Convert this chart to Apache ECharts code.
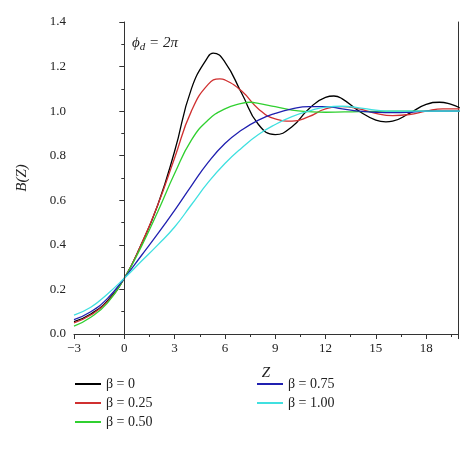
<!DOCTYPE html><html><head><meta charset="utf-8"><script src="https://cdn.jsdelivr.net/npm/echarts@6/dist/echarts.min.js"></script></head><body style="margin:0"><div id="c" style="width:474px;height:468px"></div><script>
const xTicks=[-3,0,3,6,9,12,15,18];
const names=['β = 0','β = 0.25','β = 0.50','β = 0.75','β = 1.00'];
const colors=['#000000','#d03030','#30d030','#2020b0','#40e0e0'];
const b0=[[-3,0.055],[-2,0.09],[-1,0.15],[0,0.25],[1,0.4],[2,0.58],[3,0.82],[4,1.1],[5,1.245],[5.3,1.26],[6,1.22],[7,1.08],[8,0.94],[9,0.895],[10,0.93],[11,1.01],[12,1.062],[12.5,1.068],[13,1.055],[14,1.0],[15,0.96],[15.6,0.952],[16,0.955],[17,0.99],[18,1.03],[18.8,1.04],[19.5,1.03],[20,1.015]];
const b25=[[-3,0.05],[-2,0.085],[-1,0.145],[0,0.25],[1,0.4],[2,0.58],[3,0.79],[4,1.0],[5,1.12],[5.7,1.145],[6,1.14],[7,1.09],[8,1.01],[9,0.965],[10,0.955],[11,0.975],[12,1.01],[13,1.02],[14,1.01],[15,0.99],[16,0.98],[17,0.985],[18,1.0],[19,1.01],[20,1.01]];
const b50=[[-3,0.035],[-2,0.075],[-1,0.14],[0,0.25],[1,0.39],[2,0.55],[3,0.72],[4,0.87],[5,0.96],[6,1.01],[7,1.035],[7.5,1.04],[8,1.035],[9,1.02],[10,1.005],[11,0.998],[12,0.995],[14,0.998],[16,1.0],[18,1.0],[20,1.0]];
const b75=[[-3,0.065],[-2,0.1],[-1,0.16],[0,0.25],[1,0.35],[2,0.45],[3,0.555],[4,0.665],[5,0.77],[6,0.855],[7,0.915],[8,0.96],[9,0.99],[10,1.01],[11,1.02],[12,1.02],[13,1.01],[14,1.0],[15,0.995],[16,0.993],[17,0.995],[18,1.0],[20,1.0]];
const b100=[[-3,0.085],[-2,0.12],[-1,0.18],[0,0.25],[1,0.325],[2,0.4],[3,0.48],[4,0.58],[5,0.68],[6,0.765],[7,0.835],[8,0.895],[9,0.94],[10,0.975],[11,1.0],[12,1.018],[13,1.022],[14,1.015],[15,1.005],[16,1.0],[18,1.0],[20,1.0]];
const all=[b0,b25,b50,b75,b100];
const font='Liberation Serif';
const ch=echarts.init(document.getElementById('c'));
ch.setOption({
 animation:false,
 textStyle:{fontFamily:font},
 grid:{left:74,right:16,top:22,bottom:134},
 xAxis:{type:'value',min:-3,max:19.9,interval:3,name:'Z',nameLocation:'middle',nameGap:32,nameTextStyle:{fontSize:15,fontStyle:'italic',color:'#222'},
  axisLine:{lineStyle:{color:'#333'}},axisTick:{lineStyle:{color:'#333'}},minorTick:{show:true,splitNumber:2},splitLine:{show:false},
  axisLabel:{fontSize:13,color:'#222',showMaxLabel:false,formatter:v=>v<0?'\u2212'+(-v):String(v)}},
 yAxis:[{type:'value',min:0,max:1.4,interval:0.2,name:'B(Z)',nameLocation:'middle',nameGap:44,nameTextStyle:{fontSize:15,fontStyle:'italic',color:'#222'},
  axisLine:{show:true,lineStyle:{color:'#333'}},axisTick:{show:true,lineStyle:{color:'#333'}},minorTick:{show:true,splitNumber:2},splitLine:{show:false},
  axisLabel:{fontSize:13,color:'#222',formatter:v=>v.toFixed(1)}},
  {type:'value',position:'right',min:0,max:1.4,axisLine:{show:true,lineStyle:{color:'#333'}},axisTick:{show:false},axisLabel:{show:false},splitLine:{show:false}}],
 legend:[{data:names.slice(0,3),orient:'vertical',left:70,top:372,itemWidth:26,itemHeight:2,itemGap:5,icon:'rect',textStyle:{fontSize:14,color:'#222'}},
  {data:names.slice(3),orient:'vertical',left:252,top:372,itemWidth:26,itemHeight:2,itemGap:5,icon:'rect',textStyle:{fontSize:14,color:'#222'}}],
 graphic:[{type:'text',left:132,top:36,style:{text:'{a|ϕ}{s|d}{a| = 2π}',rich:{a:{font:'italic 15px "Liberation Serif"',fill:'#222'},s:{font:'italic 11px "Liberation Serif"',fill:'#222',padding:[8,0,0,0]}}}}],
 series:all.map((d,i)=>({name:names[i],type:'line',data:d,smooth:0.5,showSymbol:false,lineStyle:{width:1.3,color:colors[i]},itemStyle:{color:colors[i]},
  markLine:i===0?{symbol:'none',silent:true,label:{show:false},lineStyle:{color:'#333',type:'solid',width:1},data:[{xAxis:0}]}:undefined}))
});
</script></body></html>
